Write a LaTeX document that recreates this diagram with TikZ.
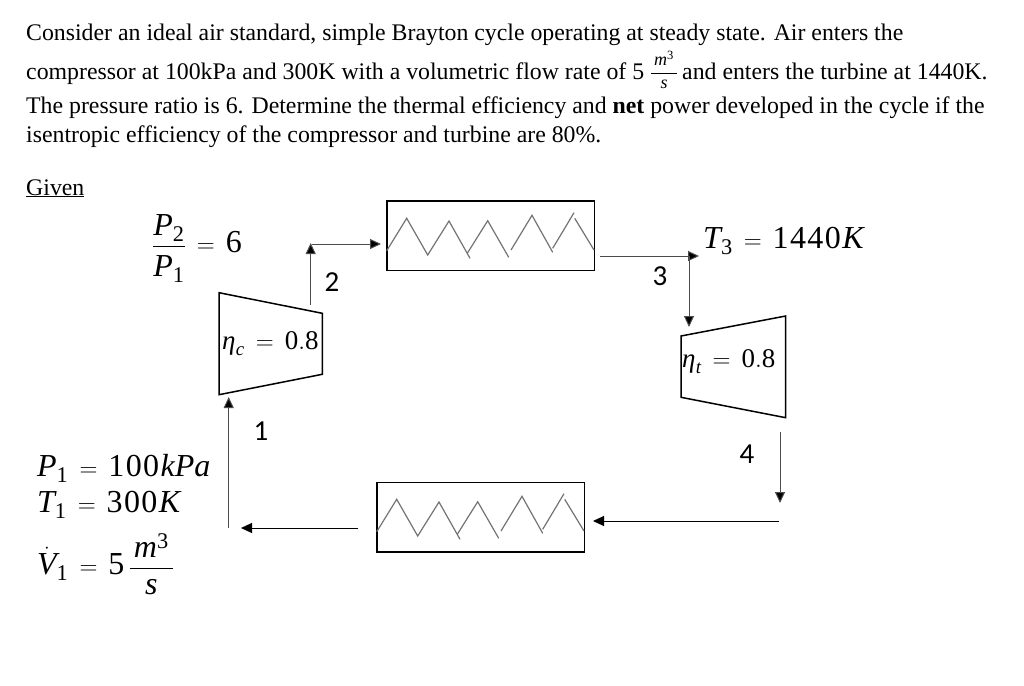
\documentclass[tikz,border=0pt]{standalone}
\usepackage{mathspec}
\setmainfont{Liberation Serif}
\setmathsfont(Digits,Latin){Liberation Serif}
\setmathsfont(Greek){Liberation Serif}
\newfontfamily\labelfont{Carlito}
\usetikzlibrary{arrows.meta}
\newcommand{\fsz}[1]{\fontsize{#1}{#1}\selectfont}
\newcommand{\eqs}{\mskip3mu=\mskip3mu}
\tikzset{
  txt/.style={inner sep=0pt,anchor=base west,font=\fsz{23.8}},
  eqn/.style={inner sep=0pt,anchor=base west,font=\fsz{32}},
  eqnsmall/.style={inner sep=0pt,anchor=base west,font=\fsz{27}},
  num/.style={inner sep=0pt,font=\labelfont\fsz{29}},
  equip/.style={draw=black,line width=1.5pt,line join=miter,fill=none},
  coil/.style={draw=black!55,line width=1.2pt,line join=miter},
  flow/.style={draw=black!70,line width=1pt},
  flowtip/.style={flow,-{Triangle[length=11pt,width=10pt,fill=black]}},
  hx/.style={equip,rectangle,inner sep=0pt}
}
\begin{document}
\begin{tikzpicture}[x=1pt,y=-1pt]
\useasboundingbox (0,0) rectangle (1024,685);
% problem text
\node[txt] (l1) at (26,41) {Consider an ideal air standard, simple Brayton cycle operating at steady state. Air enters the};
\node[txt] (l2a) at (26,79) {compressor at 100kPa and 300K with a volumetric flow rate of 5};
\node[inner sep=0pt,font=\fsz{18}] (l2f) at (664,70) {$\displaystyle\frac{\,m^3\,}{s}$};
\node[txt] (l2b) at (682,79) {and enters the turbine at 1440K.};
\node[txt] (l3) at (26,113) {The pressure ratio is 6. Determine the thermal efficiency and \textbf{net} power developed in the cycle if the};
\node[txt] (l4) at (26,142) {isentropic efficiency of the compressor and turbine are 80\%.};
\node[txt] (given) at (26,195) {\underline{Given}};
% equations
\node[eqn] (pr) at (152,252) {$\displaystyle\frac{P_2\rule[-5pt]{0pt}{0pt}}{P_1\rule{0pt}{29pt}}\eqs 6$};
\node[eqn] (t3) at (703,248) {$T_3\eqs 1\mkern1mu4\mkern1mu4\mkern1mu0\mkern1mu K$};
\node[eqn] (p1) at (37,476) {$P_1\eqs 1\mkern1mu0\mkern1mu0\mkern1mu kPa$};
\node[eqn] (t1) at (37,512) {$T_1\eqs 3\mkern1mu0\mkern1mu0\mkern1mu K$};
\node[eqn] (v1) at (37,574) {$\displaystyle\dot V_1\eqs 5\,\frac{\,m^3\rule[-4pt]{0pt}{0pt}\,}{s\rule{0pt}{25pt}}$};
\node[eqnsmall] (etac) at (222,349) {$\eta_c\eqs 0.8$};
\node[eqnsmall] (etat) at (682,367) {$\eta_t\eqs 0.8$};
% state labels
\node[num] (n1) at (261,431) {1};
\node[num] (n2) at (332,282) {2};
\node[num] (n3) at (660,276) {3};
\node[num] (n4) at (747,454) {4};
% heat exchangers
\node[hx,minimum width=207.5pt,minimum height=69.5pt] (heater) at (490.5,235.5) {};
\node[hx,minimum width=207.5pt,minimum height=69.5pt] (cooler) at (480.5,517) {};
\foreach \dx/\dy in {0/0,-10/281}{
\begin{scope}[shift={(\dx,\dy)}]
  \draw[coil] (386.7,250.7)--(406.7,218.3)--(427.7,255)--(449,221)--(470,258.3);
  \draw[coil] (467.3,253.3)--(487.7,220.7)--(508.7,257.3);
  \draw[coil] (511,250)--(532,215.3)--(552.7,252.3);
  \draw[coil] (552.7,248.3)--(574,212.7);
  \draw[coil] (574.7,218.3)--(594,250);
\end{scope}}
% compressor and turbine
\coordinate (c1) at (219,292.7);
\coordinate (c2) at (322.3,313.3);
\coordinate (c3) at (322.3,374.3);
\coordinate (c4) at (219,394.7);
\draw[equip] (c1)--(c2)--(c3)--(c4)--cycle;
\coordinate (t1a) at (681,336);
\coordinate (t2a) at (785.7,316);
\coordinate (t3a) at (785.7,417.7);
\coordinate (t4a) at (681,397.3);
\draw[equip] (t1a)--(t2a)--(t3a)--(t4a)--cycle;
% connector ends
\coordinate (a1s) at (228.7,528);
\coordinate (a1e) at (228.7,397);
\coordinate (a2s) at (358,528);
\coordinate (a2e) at (241,528);
\coordinate (b1s) at (310.7,305);
\coordinate (b1e) at (310.7,243);
\coordinate (b2s) at (312,244);
\coordinate (b2e) at (381,244);
\coordinate (d1s) at (600,256);
\coordinate (d1e) at (699,256);
\coordinate (d2s) at (689,256);
\coordinate (d2e) at (689,327);
\coordinate (e1s) at (780,432);
\coordinate (e1e) at (780,503);
\coordinate (e2s) at (779,521);
\coordinate (e2e) at (593,521);
\draw[flowtip] (a1s)--(a1e);
\draw[flowtip,draw=black] (a2s)--(a2e);
\draw[flowtip] (b1s)--(b1e);
\draw[flowtip] (b2s)--(b2e);
\draw[flowtip] (d1s)--(d1e);
\draw[flowtip] (d2s)--(d2e);
\draw[flowtip] (e1s)--(e1e);
\draw[flowtip,draw=black] (e2s)--(e2e);
\end{tikzpicture}
\end{document}
